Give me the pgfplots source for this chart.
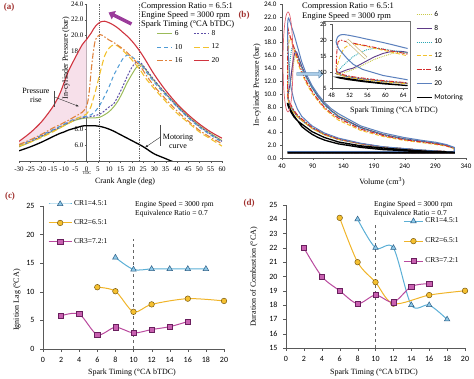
\documentclass[border=0pt]{standalone}
\usepackage{fontspec}
\setmainfont{Liberation Serif}
\newfontfamily\carlito{Carlito}
\usepackage{pgfplots}
\pgfplotsset{compat=1.18}
\usepackage{pgfplotstable}
\usetikzlibrary{arrows.meta,shapes.arrows}

\definecolor{labred}{HTML}{A0302E}
\definecolor{cSixA}{HTML}{9BBB59}
\definecolor{cEightA}{HTML}{5E4FA8}
\definecolor{cTenA}{HTML}{4F9BD5}
\definecolor{cTwelveA}{HTML}{F2C12E}
\definecolor{cSixteenA}{HTML}{E0823C}
\definecolor{cTwentyA}{HTML}{D0343F}
\definecolor{pinkfill}{HTML}{F7E0EA}
\definecolor{purparrow}{HTML}{9B3C9B}
\definecolor{cSixB}{HTML}{C9C94A}
\definecolor{cEightB}{HTML}{5E3A87}
\definecolor{cTenB}{HTML}{2BA8B5}
\definecolor{cTwelveB}{HTML}{F2C12E}
\definecolor{cSixteenB}{HTML}{D42B2B}
\definecolor{cTwentyB}{HTML}{5B80BD}
\definecolor{ellred}{HTML}{E06070}
\definecolor{arrfill}{HTML}{A9CCE8}
\definecolor{arrdraw}{HTML}{41719C}
\definecolor{khaki}{HTML}{C8B57A}
\definecolor{crOneL}{HTML}{5BAFD6}
\definecolor{crOneF}{HTML}{8CC8E8}
\definecolor{crOneE}{HTML}{2E5F86}
\definecolor{crTwoL}{HTML}{F0B429}
\definecolor{crTwoF}{HTML}{F5C030}
\definecolor{crTwoE}{HTML}{7A5A10}
\definecolor{crThrL}{HTML}{B9499E}
\definecolor{crThrF}{HTML}{C860B0}
\definecolor{crThrE}{HTML}{6A1F5E}

\newcommand\fsA{\fontsize{8.5}{9.5}\selectfont}
\newcommand\fsB{\fontsize{8}{9}\selectfont}
\newcommand\fsC{\fontsize{7.5}{9}\selectfont}

% theta, volume, motoring, spark timings 6 8 10 12 16 20
\pgfplotstableread{
th V m s6 s8 s10 s12 s16 s20
-360 49 0.80 0.80 0.80 0.80 0.80 0.80 0.80
-200 321 0.80 0.80 0.80 0.80 0.80 0.80 0.80
-180 321 0.90 0.95 0.95 0.95 0.95 0.95 0.95
-150 308 0.95 1.00 1.00 1.00 1.00 1.00 1.00
-135 291 1.00 1.10 1.10 1.10 1.10 1.10 1.10
-120 268 1.10 1.20 1.20 1.20 1.20 1.20 1.25
-105 238.7 1.30 1.45 1.45 1.45 1.45 1.45 1.48
-90 205 1.55 1.70 1.70 1.70 1.70 1.72 1.75
-75 168.3 1.90 2.20 2.20 2.22 2.20 2.25 2.30
-60 132 2.50 2.90 2.90 2.95 2.90 3.00 3.10
-50 109 3.20 3.60 3.65 3.70 3.60 3.75 3.90
-40 89 4.10 4.60 4.65 4.70 4.60 4.80 5.00
-30 72.1 5.30 5.80 5.90 6.00 5.90 6.10 6.50
-25 65.2 5.80 6.40 6.50 6.60 6.40 6.70 7.60
-20 59.5 6.40 7.10 7.20 7.30 7.00 7.40 9.00
-15 54.9 7.10 7.80 7.90 8.00 7.70 8.20 10.90
-12 52.81 7.50 8.20 8.30 8.40 8.20 8.60 12.50
-10 51.65 7.70 8.50 8.60 8.70 8.50 8.90 14.00
-8 50.70 7.95 8.80 8.90 9.00 8.80 9.20 15.50
-5 49.67 8.20 9.20 9.30 9.40 9.30 9.70 17.20
-2 49.11 8.45 9.40 9.50 9.60 9.70 10.20 18.80
0 49.00 8.50 9.50 9.60 9.70 10.00 11.00 19.50
1 49.03 8.50 9.50 9.60 9.80 10.40 12.50 19.90
2 49.11 8.50 9.50 9.70 9.90 11.00 15.50 20.30
3 49.25 8.50 9.50 9.70 10.10 12.00 18.00 20.80
4 49.43 8.48 9.50 9.80 10.40 13.00 19.50 21.20
6 49.96 8.40 9.60 10.00 11.20 15.30 20.10 21.70
8 50.70 8.25 9.90 10.40 12.30 17.40 19.80 21.80
10 51.65 8.05 10.30 10.90 13.50 18.40 19.40 21.60
12 52.81 7.80 10.90 11.30 14.90 18.80 19.10 21.30
14 54.18 7.50 11.70 12.30 16.00 18.60 18.70 20.90
16 55.75 7.20 12.80 13.50 17.00 18.10 18.30 20.40
18 57.51 6.90 14.00 14.80 17.50 17.50 17.80 19.90
20 59.50 6.60 15.00 15.90 17.30 16.90 17.20 19.30
22 61.63 6.30 15.90 16.60 16.80 16.20 16.60 18.60
24 63.90 6.00 16.30 16.50 16.30 15.50 16.00 17.80
26 66.60 5.65 15.70 15.80 15.50 14.60 15.10 16.90
30 72.10 4.90 14.20 14.30 14.00 13.20 13.50 15.00
35 80.00 4.30 12.60 12.60 12.40 11.60 11.90 13.00
40 88.90 3.70 11.10 11.00 10.90 10.10 10.40 11.30
45 98.70 3.20 9.70 9.60 9.50 8.90 9.10 9.90
50 109.0 2.80 8.50 8.40 8.30 7.70 7.90 8.70
55 120.0 2.50 7.50 7.40 7.30 6.80 7.00 7.70
60 132.0 2.20 6.60 6.50 6.40 5.90 6.20 6.90
75 168.3 1.65 4.80 4.75 4.65 4.30 4.50 5.00
90 205.0 1.30 3.70 3.65 3.60 3.35 3.50 3.90
105 238.7 1.15 3.05 3.00 2.95 2.75 2.85 3.20
120 268.0 1.00 2.60 2.60 2.55 2.40 2.50 2.75
135 291.0 0.95 2.30 2.30 2.25 2.10 2.20 2.45
150 308.0 0.90 2.00 2.00 1.95 1.85 1.90 2.10
180 321.0 0.85 1.55 1.55 1.50 1.45 1.50 1.65
200 321.0 0.85 1.00 1.00 1.00 1.00 1.00 1.00
360 49.0 0.85 1.00 1.00 1.00 1.00 1.00 1.00
}\pv

\begin{document}
\begin{tikzpicture}[x=1pt,y=1pt]
\useasboundingbox (0,0) rectangle (474,379);

%%%%%%%%%%%%%%%% (a)
\begin{axis}[at={(19pt,218pt)},anchor=south west,scale only axis,
  width=203pt,height=157pt,
  xmin=-30,xmax=60,ymin=4,ymax=24,
  axis x line=bottom, axis y line=middle, axis line style={-,black!65},
  xtick={-30,-25,...,60}, ytick={4,6,...,24},
  yticklabel={\pgfmathprintnumber[fixed,fixed zerofill,precision=1,assume math mode=true]{\tick}},
  /pgf/number format/assume math mode=true,
  tick label style={font=\fontsize{7}{8}\selectfont},
  yticklabel style={inner sep=1pt},
  tick align=outside, major tick length=2pt, tick style={black!65},
  legend columns=2,
  legend style={at={(0.678,0.845)},anchor=north west,draw=none,fill=none,
    font=\fontsize{7.5}{8.5}\selectfont,inner sep=0pt,row sep=3pt,
    /tikz/every even column/.append style={column sep=9pt}},
  legend image code/.code={\draw[#1] (0pt,0pt) -- (15pt,0pt);},
  legend cell align=left]
\addplot[fill=pinkfill,draw=none,forget plot] coordinates {
 (-30,6.5) (-25,7.6) (-20,9.0) (-15,10.9) (-12,12.5) (-10,14.0) (-8,15.5) (-5,17.2) (-2,18.8) (0,19.5)
 (0,9.5) (-2,9.4) (-5,9.2) (-8,8.8) (-10,8.5) (-12,8.2) (-15,7.8) (-20,7.1) (-25,6.4) (-30,5.8)} -- cycle;
\addplot[black!60,densely dotted,line width=0.8pt,forget plot] coordinates {(5.6,4) (5.6,24)};
\addplot[black!60,densely dotted,line width=0.8pt,forget plot] coordinates {(23.2,4) (23.2,24)};
\addplot[black,line width=1.3pt,smooth,forget plot,restrict x to domain=-30:60] table[x=th,y=m]{\pv};
\addplot[cSixA,line width=1pt,smooth,restrict x to domain=-30:60] table[x=th,y=s6]{\pv};
\addplot[cEightA,line width=1pt,smooth,dash pattern=on 2pt off 1.5pt,restrict x to domain=-30:60] table[x=th,y=s8]{\pv};
\addplot[cTenA,line width=1pt,smooth,dash pattern=on 4pt off 3pt,restrict x to domain=-30:60] table[x=th,y=s10]{\pv};
\addplot[cTwelveA,line width=1.1pt,smooth,dash pattern=on 6pt off 3pt,restrict x to domain=-30:60] table[x=th,y=s12]{\pv};
\addplot[cSixteenA,line width=1.1pt,smooth,dash pattern=on 6pt off 2pt on 1.5pt off 2pt,restrict x to domain=-30:60] table[x=th,y=s16]{\pv};
\addplot[cTwentyA,line width=1.1pt,smooth,restrict x to domain=-30:60] table[x=th,y=s20]{\pv};
\legend{6,8,10,12,16,20}
\end{axis}
\node[font=\fontsize{9}{10}\selectfont\bfseries,text=labred] at (9,372) {(a)};
\node[rotate=90,font=\fsB] at (66,321) {In-cylinder Pressure (bar)};
\node[font=\fsB] at (125,197) {Crank Angle (deg)};
\node[font=\fontsize{4.5}{5}\selectfont,inner sep=0pt] at (87,205.5) {TDC};
\node[anchor=west,font=\fsA,inner sep=0pt] at (141,372) {Compression Ratio = 6.5:1};
\node[anchor=west,font=\fsA,inner sep=0pt] at (141,363.3) {Engine Speed = 3000 rpm};
\node[anchor=west,font=\fsA,inner sep=0pt] at (141,354.6) {Spark Timing (°CA bTDC)};
\draw[purparrow,line width=3.5pt,-{Triangle[length=6pt,width=9pt]}] (131.5,355) -- (108.5,366.5);
\node[font=\fsB,align=center,inner sep=0pt] at (36,284) {Pressure\\rise};
\draw[black!70] (54.5,288) -- (54.5,272);
\draw[black!80,-{Latex[length=3pt]}] (54.5,282) -- (79,272.5);
\node[font=\fsB,align=center,inner sep=0pt] at (178,238) {Motoring\\curve};
\draw[black!70] (160.5,254) -- (160.5,233);
\draw[black!80,-{Latex[length=3pt]}] (160.5,242) -- (145,231.5);

%%%%%%%%%%%%%%%% (b)
\begin{axis}[at={(282pt,221pt)},anchor=south west,scale only axis,
  width=184pt,height=154pt,
  xmin=40,xmax=340,ymin=0,ymax=24,
  axis x line=bottom, axis y line=left, axis line style={-,black!65},
  xtick={40,90,...,340}, ytick={0,2,...,24},
  yticklabel={\pgfmathprintnumber[fixed,fixed zerofill,precision=1,assume math mode=true]{\tick}},
  /pgf/number format/assume math mode=true,
  tick label style={font=\carlito\fontsize{7}{8}\selectfont},
  tick align=outside, major tick length=2pt, tick style={black!65},
  legend style={at={(0.727,0.967)},anchor=north west,draw=none,fill=none,
    font=\carlito\fontsize{7.5}{8.5}\selectfont,inner sep=0pt,row sep=3.3pt},
  legend image code/.code={\draw[#1] (0pt,0pt) -- (15pt,0pt);},
  legend cell align=left]
\addplot[cSixB,line width=1pt,densely dotted] table[x=V,y=s6]{\pv};
\addplot[cEightB,line width=1pt] table[x=V,y=s8]{\pv};
\addplot[cTenB,line width=1pt,densely dotted] table[x=V,y=s10]{\pv};
\addplot[cTwelveB,line width=1pt,dash pattern=on 4pt off 2pt] table[x=V,y=s12]{\pv};
\addplot[cSixteenB,line width=1pt,dash pattern=on 5pt off 1.5pt on 1.5pt off 1.5pt] table[x=V,y=s16]{\pv};
\addplot[cTwentyB,line width=1pt] table[x=V,y=s20]{\pv};
\addplot[black,line width=1.3pt] table[x=V,y=m]{\pv};
\legend{6,8,10,12,16,20,Motoring}
\end{axis}
\node[font=\fontsize{9}{10}\selectfont\bfseries,text=labred] at (244,364) {(b)};
\node[rotate=90,font=\fsB] at (257,294) {In-cylinder Pressure (bar)};
\node[font=\fsB] at (382,197) {Volume (cm\textsuperscript{3})};
\node[anchor=west,font=\fsA,inner sep=0pt] at (302,372) {Compression Ratio = 6.5:1};
\node[anchor=west,font=\fsA,inner sep=0pt] at (302,362.5) {Engine Speed = 3000 rpm};
\draw[ellred,line width=0.7pt] (288,317) ellipse (5 and 50);
\draw[black!55,fill=white] (322.7,277.3) rectangle (410,357.3);
\node[single arrow,draw=arrdraw,fill=arrfill,minimum height=26pt,minimum width=8pt,
  single arrow head extend=2pt,inner sep=1pt] at (309,305) {};
\begin{axis}[at={(331.7pt,290.7pt)},anchor=south west,scale only axis,
  width=76pt,height=64pt,
  xmin=48,xmax=65,ymin=5,ymax=25,
  axis x line=bottom, axis y line=left, axis line style={-,black!65},
  xtick={48,52,...,64}, ytick={5,10,...,25},
  /pgf/number format/assume math mode=true,
  tick label style={font=\carlito\fontsize{6.5}{7}\selectfont},
  tick align=outside, major tick length=1.5pt, tick style={black!65}]
\addplot[cSixB,line width=0.9pt,densely dotted] table[x=V,y=s6]{\pv};
\addplot[cEightB,line width=0.9pt] table[x=V,y=s8]{\pv};
\addplot[cTenB,line width=0.9pt,densely dotted] table[x=V,y=s10]{\pv};
\addplot[cTwelveB,line width=0.9pt,dash pattern=on 4pt off 2pt] table[x=V,y=s12]{\pv};
\addplot[cSixteenB,line width=0.9pt,dash pattern=on 5pt off 1.5pt on 1.5pt off 1.5pt] table[x=V,y=s16]{\pv};
\addplot[cTwentyB,line width=1pt] table[x=V,y=s20]{\pv};
\addplot[black,line width=1.1pt] table[x=V,y=m]{\pv};
\end{axis}
\draw[khaki,double=white,double distance=2pt,line width=0.7pt] (347,339) -- (366,321);
\node[font=\fsB] at (394,268) {Spark Timing (°CA bTDC)};

%%%%%%%%%%%%%%%% (c)
\begin{axis}[at={(43pt,30pt)},anchor=south west,scale only axis,
  width=181pt,height=143pt,
  xmin=0,xmax=20,ymin=0,ymax=25,
  axis x line=bottom, axis y line=left, axis line style={-,black!65},
  xtick={0,2,...,20}, ytick={0,5,...,25},
  /pgf/number format/assume math mode=true,
  tick label style={font=\carlito\fontsize{8}{9}\selectfont},
  yticklabel style={xshift=-2pt}, xticklabel style={yshift=-2pt},
  tick align=outside, major tick length=3pt, tick style={black!65},
  legend style={at={(0.0275,1.052)},anchor=north west,draw=none,fill=none,
    font=\fontsize{7.5}{8.5}\selectfont,inner sep=0pt,row sep=8.5pt},
  legend image code/.code={\draw[mark repeat=2,mark phase=2,#1] plot coordinates {(0pt,0pt) (11.5pt,0pt) (23pt,0pt)};},
  legend cell align=left]
\addplot[black!60,dashed,line width=0.8pt,forget plot] coordinates {(10,0) (10,19.2)};
\addplot[crOneL,line width=1pt,smooth,mark=triangle*,mark size=3.2pt,
  mark options={solid,fill=crOneF,draw=crOneE,line width=0.5pt}]
  coordinates {(8,16) (10,13.9) (12,14) (14,14) (16,14) (18,14)};
\addplot[crTwoL,line width=1pt,smooth,mark=*,mark size=2.8pt,
  mark options={solid,fill=crTwoF,draw=crTwoE,line width=0.5pt}]
  coordinates {(6,10.8) (8,10.1) (10,6.5) (12,7.8) (16,8.8) (20,8.4)};
\addplot[crThrL,line width=1pt,smooth,mark=square*,mark size=2.6pt,
  mark options={solid,fill=crThrF,draw=crThrE,line width=0.5pt}]
  coordinates {(2,5.8) (4,6.1) (6,2.5) (8,3.8) (10,2.8) (12,3.4) (14,3.9) (16,4.8)};
\legend{CR1=4.5:1,CR2=6.5:1,CR3=7.2:1}
\end{axis}
\node[font=\fontsize{9}{10}\selectfont\bfseries,text=labred] at (10,183) {(c)};
\node[rotate=90,font=\fsB] at (17,79) {Ignition Lag (°CA)};
\node[font=\fsB] at (132,6) {Spark Timing (°CA bTDC)};
\node[anchor=west,font=\fsC,inner sep=0pt] at (135,174) {Engine Speed = 3000 rpm};
\node[anchor=west,font=\fsC,inner sep=0pt] at (135,165.5) {Equivalence Ratio = 0.7};

%%%%%%%%%%%%%%%% (d)
\begin{axis}[at={(286pt,31pt)},anchor=south west,scale only axis,
  width=179pt,height=143pt,
  xmin=0,xmax=20,ymin=15,ymax=25,
  axis x line=bottom, axis y line=left, axis line style={-,black!65},
  xtick={0,2,...,20}, ytick={15,16,...,25},
  /pgf/number format/assume math mode=true,
  tick label style={font=\carlito\fontsize{8}{9}\selectfont},
  yticklabel style={xshift=-2pt}, xticklabel style={yshift=-2pt},
  tick align=outside, major tick length=3pt, tick style={black!65},
  legend style={at={(0.655,0.925)},anchor=north west,draw=none,fill=none,
    font=\fontsize{7.5}{8.5}\selectfont,inner sep=0pt,row sep=9.5pt},
  legend image code/.code={\draw[mark repeat=2,mark phase=2,#1] plot coordinates {(0pt,0pt) (9.5pt,0pt) (19pt,0pt)};},
  legend cell align=left]
\addplot[black!60,dashed,line width=0.8pt,forget plot] coordinates {(10,15) (10,23.7)};
\addplot[crOneL,line width=1pt,smooth,mark=triangle*,mark size=3.2pt,
  mark options={solid,fill=crOneF,draw=crOneE,line width=0.5pt}]
  coordinates {(8,24) (10,22) (12,22) (14,18) (16,18) (18,17)};
\addplot[crTwoL,line width=1pt,smooth,mark=*,mark size=2.8pt,
  mark options={solid,fill=crTwoF,draw=crTwoE,line width=0.5pt}]
  coordinates {(6,24.1) (8,21) (10,19.6) (12,18.1) (16,18.7) (20,19)};
\addplot[crThrL,line width=1pt,smooth,mark=square*,mark size=2.6pt,
  mark options={solid,fill=crThrF,draw=crThrE,line width=0.5pt}]
  coordinates {(2,22) (4,20) (6,19) (8,18.1) (10,18.7) (12,18.2) (14,19.3) (16,19.5)};
\legend{CR1=4.5:1,CR2=6.5:1,CR3=7.2:1}
\end{axis}
\node[font=\fontsize{9}{10}\selectfont\bfseries,text=labred] at (249,176) {(d)};
\node[rotate=90,font=\fsB] at (254,102) {Duration of Combustion (°CA)};
\node[font=\fsB] at (374,6) {Spark Timing (°CA bTDC)};
\node[anchor=west,font=\fsC,inner sep=0pt] at (374,174) {Engine Speed = 3000 rpm};
\node[anchor=west,font=\fsC,inner sep=0pt] at (374,165) {Equivalence Ratio = 0.7};
\end{tikzpicture}
\end{document}
